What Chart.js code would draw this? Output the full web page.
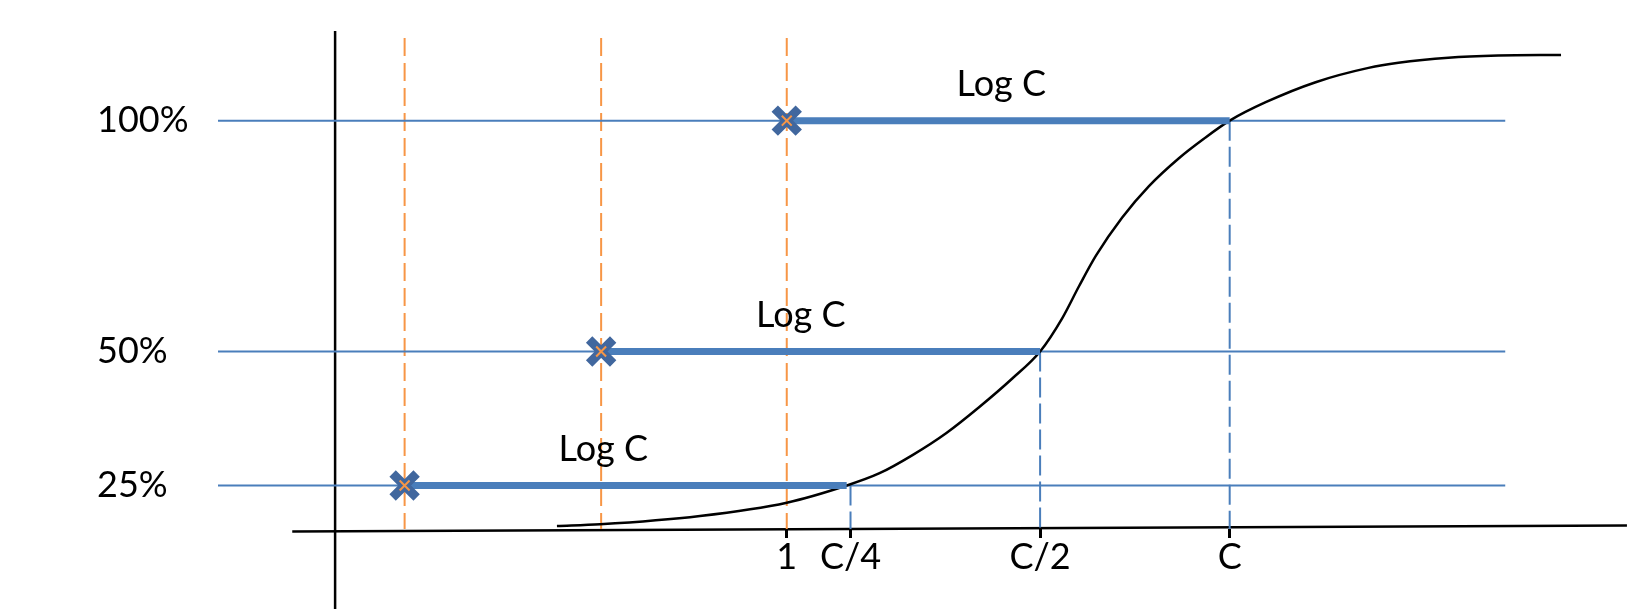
<!DOCTYPE html>
<html>
<head>
<meta charset="utf-8">
<script src="https://cdn.jsdelivr.net/npm/chart.js@4/dist/chart.umd.min.js"></script>
<style>
  body { margin: 0; background: #fff; }
</style>
</head>
<body>
<canvas id="chart" width="1650" height="609"></canvas>
<script>
// x axis is a log scale (concentration), y is response level
const xTickValues = [1, 1.2625, 2.525, 5.05]
const xTickLabels = ['1', 'C/4', 'C/2', 'C']
const levelValues = [8.73, 35.64, 82]
const levelLabels = ['25%', '50%', '100%']
const markerX = [0.2473, 0.5073, 1]
const thickEndX = [1.245, 2.525, 5.05]
const dropX = [1.2625, 2.525, 5.05]
const logLabelX = [0.5113, 1.0524, 2.191]
const logLabelText = ['Log C', 'Log C', 'Log C']
const levelLineX = [0.125, 13.83]
const guideTopY = 98.6
const curveX = [0.4316, 0.5055, 0.7281, 1, 1.245, 1.404, 1.5836, 1.7928, 2.022, 2.2809, 2.525, 2.7372, 2.9122, 3.0987,
  3.4067, 3.7594, 4.1944, 4.5948, 5.05, 5.761, 6.914, 8.389, 9.36, 11.232, 13.48, 16.96]
const curveY = [0.6, 0.94, 2.61, 5.28, 8.73, 11.2, 14.84, 19.28, 24.5, 30.22, 35.64, 42.31, 48.8, 54.94,
  62.51, 68.86, 74.46, 78.37, 82, 85.7, 89.72, 92.59, 93.61, 94.62, 95.06, 95.2]
const xAxisLineX = [0.164, 21.58]
const xAxisLineY = [-0.48, 0.7]
const yAxisLineX = [0.1918, 0.1918]
const yAxisLineY = [100, -16.1]

const BLUE = '#4a7ebb'
const ORANGE = '#f79646'
const MARKER = '#41679e'

const toPoints = (xs, ys) => xs.map((x, i) => ({ x: x, y: ys[i] }))

const datasets = []

// markers (on top)
datasets.push({
  data: toPoints(markerX, levelValues),
  showLine: false,
  pointStyle: 'crossRot',
  pointRadius: 17,
  pointBorderWidth: 9,
  pointBorderColor: MARKER,
  order: 0,
})
datasets.push({
  data: toPoints(markerX, levelValues),
  showLine: false,
  pointStyle: 'crossRot',
  pointRadius: 7,
  pointBorderWidth: 2,
  pointBorderColor: ORANGE,
  order: -1,
})

// thick Log C segments
levelValues.forEach((lv, i) => {
  datasets.push({
    data: [{ x: markerX[i], y: lv }, { x: thickEndX[i], y: lv }],
    borderColor: BLUE,
    borderWidth: 7,
    pointRadius: 0,
    order: 2,
  })
})

// dose-response curve
datasets.push({
  data: toPoints(curveX, curveY),
  borderColor: '#000',
  borderWidth: 2.5,
  pointRadius: 0,
  cubicInterpolationMode: 'monotone',
  order: 3,
})

// thin level lines
levelValues.forEach((lv) => {
  datasets.push({
    data: [{ x: levelLineX[0], y: lv }, { x: levelLineX[1], y: lv }],
    borderColor: BLUE,
    borderWidth: 2,
    pointRadius: 0,
    order: 4,
  })
})

// orange guides
markerX.forEach((mx) => {
  datasets.push({
    data: [{ x: mx, y: guideTopY }, { x: mx, y: 0 }],
    borderColor: ORANGE,
    borderWidth: 2,
    borderDash: [18, 7],
    pointRadius: 0,
    order: 5,
  })
})

// blue drops to the axis
dropX.forEach((dx, i) => {
  datasets.push({
    data: [{ x: dx, y: levelValues[i] }, { x: dx, y: 0 }],
    borderColor: BLUE,
    borderWidth: 2,
    borderDash: [20, 6],
    pointRadius: 0,
    order: 5,
  })
})

// axis lines
datasets.push({
  data: toPoints(xAxisLineX, xAxisLineY),
  borderColor: '#000',
  borderWidth: 2.5,
  pointRadius: 0,
  clip: false,
  order: 6,
})
datasets.push({
  data: toPoints(yAxisLineX, yAxisLineY),
  borderColor: '#000',
  borderWidth: 2.5,
  pointRadius: 0,
  clip: false,
  order: 6,
})

const logLabels = {
  id: 'logLabels',
  afterDatasetsDraw(chart) {
    const ctx = chart.ctx
    const xs = chart.scales.x
    const ys = chart.scales.y
    ctx.save()
    ctx.font = '36px Lato'
    ctx.fillStyle = '#000'
    ctx.textAlign = 'center'
    ctx.textBaseline = 'alphabetic'
    logLabelText.forEach((t, i) => {
      ctx.fillText(t, xs.getPixelForValue(logLabelX[i]), ys.getPixelForValue(levelValues[i]) - 25)
    })
    ctx.restore()
  },
}

Chart.defaults.font.family = 'Lato'
Chart.defaults.color = '#000'

const myChart = new Chart(document.getElementById('chart'), {
  type: 'line',
  data: { datasets },
  options: {
    responsive: false,
    animation: false,
    layout: { padding: { left: 97, top: 31, right: 14, bottom: 0 } },
    plugins: { legend: { display: false }, tooltip: { enabled: false } },
    scales: {
      x: {
        type: 'logarithmic',
        min: 0.125,
        max: 21.35,
        bounds: 'data',
        border: { display: false },
        grid: { drawOnChartArea: false, drawTicks: true, tickLength: 9, color: '#000', lineWidth: 3 },
        afterBuildTicks: (scale) => {
          scale.ticks = xTickValues.map((v) => ({ value: v }))
        },
        afterFit: (scale) => {
          scale.height = 80
        },
        ticks: {
          autoSkip: false,
          maxRotation: 0,
          padding: -2,
          font: { size: 36 },
          callback: (value, index) => xTickLabels[index],
        },
      },
      y: {
        min: 0,
        max: 100,
        border: { display: false },
        grid: { display: false },
        afterBuildTicks: (scale) => {
          scale.ticks = levelValues.map((v) => ({ value: v }))
        },
        afterFit: (scale) => {
          scale.width = 121
        },
        ticks: {
          crossAlign: 'far',
          font: { size: 36 },
          callback: (value, index) => levelLabels[index],
        },
      },
    },
  },
  plugins: [logLabels],
})
</script>
</body>
</html>
